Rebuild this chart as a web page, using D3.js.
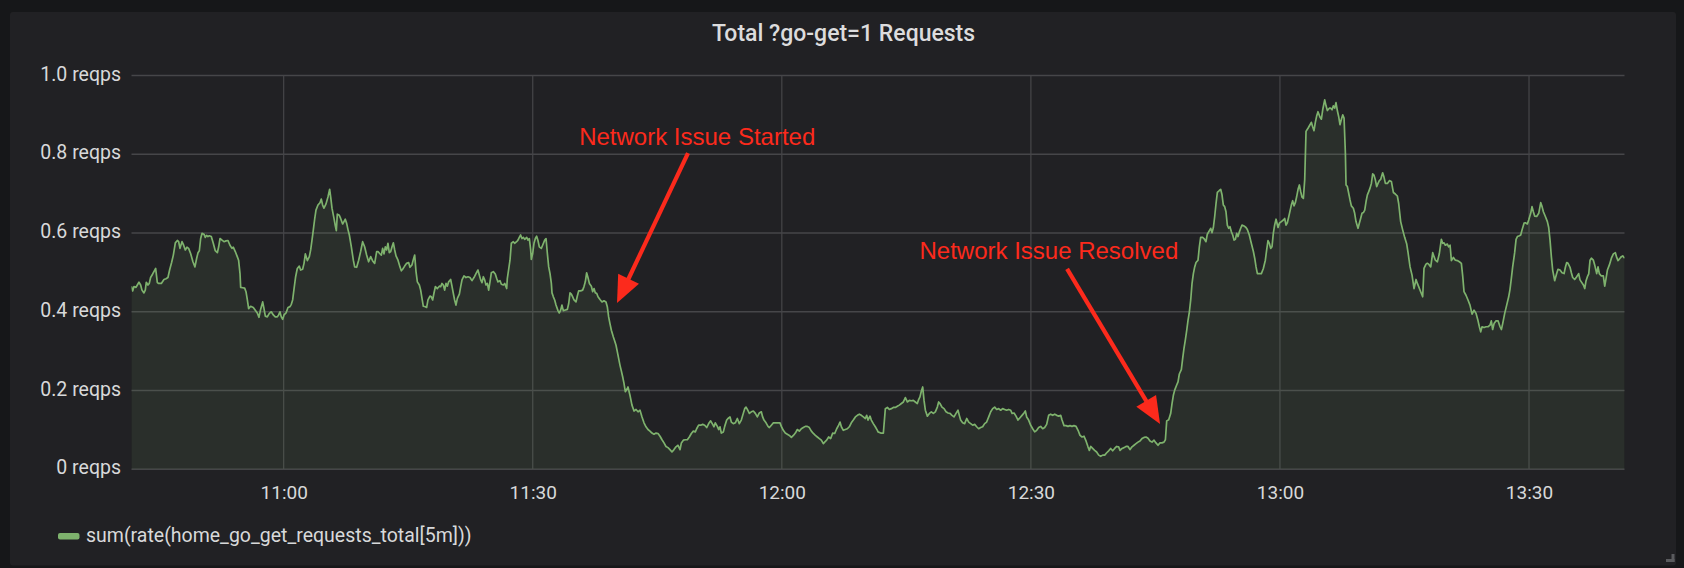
<!DOCTYPE html>
<html><head><meta charset="utf-8">
<script src="https://cdn.jsdelivr.net/npm/d3@7"></script>
<style>
html,body{margin:0;padding:0;background:#161719;overflow:hidden;}
svg{display:block;}
</style></head><body>
<svg id="chart" width="1684" height="568"></svg>
<script>
// ---------------- data ----------------
const chartTitle = "Total ?go-get=1 Requests";
const seriesName = "sum(rate(home_go_get_requests_total[5m]))";
const yTickValues = [0, 0.2, 0.4, 0.6, 0.8, 1.0];
const yTickLabels = ["0 reqps", "0.2 reqps", "0.4 reqps", "0.6 reqps", "0.8 reqps", "1.0 reqps"];
const xTickLabels = ["11:00", "11:30", "12:00", "12:30", "13:00", "13:30"];
const rangeStartMin = -18.33;   // minutes relative to 11:00 (10:41:40)
const rangeEndMin = 161.5;      // 13:41:30

// sample times, minutes relative to 11:00
const minutesFrom1100 = [
-18.35,-18.19,-18.03,-17.79,-17.63,-17.43,-17.23,-17.07,-16.83,-16.67,-16.55,-16.35,-16.19,-16.03,-15.78,-15.58,-15.42,-15.22,-15.06,-14.74,
-14.42,-14.18,-13.94,-13.74,-13.50,-13.29,-13.05,-12.81,-12.65,-12.49,-12.25,-12.05,-11.85,-11.65,-11.45,-11.21,-10.93,-10.69,-10.48,-10.32,
-10.16,-10.00,-9.84,-9.60,-9.44,-9.28,-9.12,-8.96,-8.72,-8.48,-8.24,-7.99,-7.83,-7.67,-7.43,-7.19,-6.95,-6.71,-6.47,-6.23,
-6.07,-5.83,-5.59,-5.43,-5.26,-5.18,-4.94,-4.70,-4.54,-4.38,-4.22,-3.98,-3.66,-3.42,-3.18,-2.98,-2.78,-2.53,-2.37,-2.21,
-1.97,-1.73,-1.49,-1.25,-1.01,-0.77,-0.61,-0.45,-0.29,-0.12,0.04,0.28,0.52,0.76,0.92,1.08,1.24,1.44,1.64,1.88,
2.04,2.28,2.45,2.61,2.85,3.09,3.25,3.41,3.57,3.73,3.89,4.13,4.37,4.53,4.69,4.85,5.10,5.34,5.54,5.66,
5.82,6.06,6.22,6.34,6.46,6.70,6.86,7.10,7.26,7.42,7.58,7.75,7.91,8.15,8.39,8.55,8.79,9.03,9.27,9.51,
9.75,9.99,10.23,10.48,10.72,10.96,11.20,
11.36,11.56,11.76,11.92,12.08,12.24,12.40,12.56,12.72,12.89,13.05,13.21,13.37,13.53,13.77,14.01,14.17,14.33,14.57,14.81,
15.05,15.21,15.45,15.62,15.78,15.94,16.10,16.34,16.50,16.66,16.82,17.06,17.22,17.38,17.62,17.78,17.94,18.10,18.27,18.51,
18.75,18.91,19.07,19.23,19.39,19.55,19.71,19.87,20.11,20.27,20.43,20.59,20.75,20.92,21.16,21.32,21.48,21.72,21.96,22.20,
22.44,22.68,22.92,23.16,23.40,23.57,23.73,23.89,24.05,24.21,24.37,24.53,24.69,24.85,25.01,25.25,25.49,25.65,25.81,26.05,
26.22,26.46,26.62,26.86,26.94,27.10,27.26,27.42,27.66,27.82,28.06,28.22,28.38,28.54,28.70,28.87,29.03,29.27,29.43,29.59,
29.75,29.83,29.99,30.15,30.31,30.47,30.63,30.79,31.03,31.19,31.44,31.60,31.76,31.92,32.08,32.24,32.32,32.48,32.64,32.80,
33.04,33.20,33.36,33.52,33.68,33.84,34.17,34.33,34.49,34.65,34.81,34.97,35.21,35.37,35.53,35.77,36.01,36.17,36.33,36.49,
36.65,36.82,37.06,37.22,37.38,37.54,37.70,37.86,38.10,38.34,38.58,38.82,38.98,39.14,39.30,39.47,39.71,39.87,40.03,40.19,
40.35,40.51,40.67,40.83,40.99,41.15,41.39,
41.47,41.71,41.95,42.20,42.44,42.68,42.92,43.16,43.40,43.64,43.88,44.12,44.36,44.60,44.85,45.09,45.33,45.57,45.81,46.05,
46.29,46.53,46.77,47.01,47.25,47.50,47.74,47.90,48.14,48.38,48.62,48.86,49.10,49.34,49.58,49.74,49.98,50.23,50.47,50.71,
50.95,51.19,51.43,51.67,51.83,51.99,52.23,52.39,52.55,52.71,52.96,53.12,53.36,53.52,53.76,53.92,54.16,54.40,54.64,54.88,
55.12,55.36,55.53,55.69,55.85,56.09,56.33,56.57,56.81,57.05,57.29,57.53,57.69,57.85,58.10,58.34,58.50,58.74,58.98,59.22,
59.54,59.78,59.94,60.18,60.42,60.66,60.91,61.15,61.39,61.63,61.87,62.11,62.35,62.59,62.83,63.07,63.31,63.56,63.80,64.04,
64.28,64.52,64.76,65.00,65.16,65.40,65.64,65.88,66.13,66.37,66.61,66.85,67.01,67.17,67.41,67.65,67.89,68.13,68.37,68.61,
68.86,69.10,69.34,69.58,69.82,70.06,70.22,70.38,70.62,70.78,71.02,71.26,71.51,
71.59,71.91,72.23,72.47,72.71,72.95,73.19,73.43,73.67,73.91,74.15,74.40,74.64,74.88,75.12,75.36,75.60,75.84,76.08,76.32,
76.48,76.64,76.81,76.97,77.13,77.29,77.53,77.77,78.01,78.25,78.49,78.73,78.89,79.05,79.29,79.54,79.78,80.02,80.26,80.50,
80.74,80.98,81.22,81.38,81.54,81.78,82.02,82.27,82.51,82.75,82.99,83.23,83.47,83.71,83.95,84.19,84.43,84.67,84.92,85.16,
85.40,85.64,85.88,86.12,86.36,86.60,86.84,87.08,87.32,87.57,87.73,87.97,88.21,88.45,88.69,88.93,89.17,89.33,89.49,89.73,
89.97,90.22,90.46,90.70,90.94,91.18,91.42,91.66,91.90,92.14,92.38,92.62,92.87,93.11,93.35,93.59,93.75,93.99,94.23,94.47,
94.71,94.95,95.19,95.44,95.68,95.92,96.16,96.40,96.64,96.88,97.04,97.20,97.44,97.68,97.92,98.17,98.41,98.65,98.89,99.13,
99.37,99.61,99.85,100.09,100.33,100.57,100.74,100.98,101.22,101.46,
101.70,101.94,102.18,102.42,102.66,102.90,103.14,103.38,103.63,103.87,104.11,104.35,104.59,104.83,105.07,105.31,105.55,105.79,106.03,106.20,
106.36,106.60,106.84,107.00,107.16,107.32,107.56,107.72,107.88,108.12,108.28,108.44,108.60,108.77,108.93,109.09,109.25,109.41,109.57,109.73,
109.89,110.13,110.29,110.45,110.69,110.85,111.09,111.25,111.50,111.66,111.82,111.98,112.14,112.30,112.46,112.70,112.86,113.02,113.18,113.34,
113.50,113.66,113.82,113.98,114.15,114.31,114.47,114.63,114.79,114.95,115.11,115.27,115.43,115.67,115.91,116.07,116.31,116.55,116.80,116.96,
117.12,117.28,117.52,117.76,118.00,118.24,118.40,118.56,118.72,118.88,119.04,119.20,119.36,119.53,119.77,119.93,120.17,120.41,120.57,120.73,
120.89,121.13,121.37,121.53,121.69,121.85,122.01,122.18,122.34,122.50,122.66,122.82,122.98,123.14,123.38,123.62,123.78,123.94,124.10,124.26,
124.42,124.58,124.83,124.99,125.15,125.39,125.55,125.71,125.95,126.11,126.27,126.43,126.59,126.75,126.91,127.07,127.23,127.40,127.56,127.72,
127.88,127.96,128.12,128.28,128.44,128.60,128.84,129.00,129.16,129.40,129.56,129.72,129.88,130.05,130.21,130.37,130.53,130.69,130.85,131.01,
131.17,131.33,131.49,131.65,
131.81,131.97,132.13,132.37,132.53,132.70,132.94,133.18,133.42,133.66,133.90,134.14,134.30,134.54,134.78,135.02,135.27,135.43,135.67,135.91,
136.15,136.39,136.55,136.71,136.95,137.19,137.35,137.59,137.75,137.92,138.16,138.40,138.56,138.72,138.96,139.20,139.44,139.60,139.76,139.92,
140.16,140.32,140.49,140.65,140.89,141.13,141.37,141.61,141.85,142.01,142.17,142.41,142.65,142.89,143.14,143.38,143.62,143.86,144.02,144.18,
144.34,144.58,144.82,145.06,145.30,145.46,145.62,145.79,146.03,146.27,146.51,146.67,146.83,147.07,147.31,147.55,147.71,147.87,148.03,148.27,
148.44,148.60,148.84,149.00,149.16,149.40,149.56,149.80,149.96,150.20,150.36,150.52,150.68,150.92,151.17,151.41,151.57,151.73,151.97,152.21,
152.37,152.53,152.69,152.85,153.09,153.33,153.49,153.73,153.98,154.22,154.38,154.54,154.70,154.94,155.10,155.26,155.50,155.74,155.98,156.14,
156.30,156.55,156.71,156.87,157.03,157.19,157.35,157.51,157.75,157.91,158.15,158.31,158.47,158.71,158.95,159.12,159.28,159.44,159.68,159.92,
160.16,160.40,160.56,160.72,160.96,161.12,161.28,161.52
];

// request rate (reqps) at each sample
const reqps = [
0.465,0.453,0.464,0.462,0.468,0.475,0.468,0.455,0.448,0.455,0.475,0.468,0.472,0.487,0.496,0.504,0.510,0.474,0.472,0.472,
0.482,0.484,0.487,0.506,0.525,0.544,0.575,0.581,0.578,0.561,0.578,0.569,0.557,0.564,0.561,0.548,0.527,0.514,0.536,0.550,
0.555,0.586,0.599,0.597,0.589,0.594,0.591,0.593,0.591,0.574,0.555,0.550,0.565,0.586,0.582,0.578,0.580,0.581,0.569,0.561,
0.564,0.553,0.540,0.531,0.497,0.462,0.461,0.460,0.451,0.431,0.408,0.414,0.411,0.404,0.397,0.386,0.406,0.425,0.408,0.389,
0.387,0.396,0.400,0.392,0.387,0.387,0.392,0.400,0.387,0.381,0.392,0.397,0.411,0.413,0.419,0.430,0.457,0.489,0.510,0.516,
0.506,0.508,0.523,0.547,0.530,0.540,0.557,0.582,0.608,0.635,0.658,0.671,0.677,0.686,0.671,0.663,0.674,0.692,0.711,0.692,
0.663,0.637,0.618,0.606,0.648,0.645,0.637,0.623,0.629,0.635,0.625,0.608,0.595,0.565,0.531,0.514,0.513,0.531,0.553,0.578,
0.565,0.544,0.527,0.540,0.529,0.523,0.553,
0.553,0.548,0.544,0.561,0.547,0.565,0.557,0.574,0.550,0.553,0.565,0.575,0.557,0.542,0.531,0.514,0.504,0.508,0.516,0.523,
0.525,0.513,0.519,0.533,0.544,0.502,0.476,0.468,0.455,0.434,0.414,0.413,0.411,0.430,0.440,0.438,0.430,0.447,0.464,0.459,
0.465,0.464,0.472,0.468,0.455,0.472,0.465,0.476,0.482,0.465,0.447,0.430,0.417,0.434,0.445,0.464,0.481,0.491,0.487,0.489,
0.487,0.479,0.487,0.497,0.506,0.493,0.481,0.474,0.489,0.481,0.468,0.472,0.455,0.476,0.499,0.502,0.496,0.485,0.476,0.479,
0.470,0.468,0.472,0.459,0.485,0.508,0.531,0.574,0.578,0.574,0.578,0.582,0.589,0.595,0.586,0.589,0.584,0.589,0.582,0.586,
0.557,0.533,0.548,0.574,0.586,0.592,0.581,0.565,0.561,0.569,0.582,0.586,0.548,0.514,0.497,0.472,0.448,0.438,0.430,0.417,
0.403,0.397,0.404,0.417,0.403,0.404,0.406,0.421,0.448,0.445,0.438,0.430,0.425,0.440,0.453,0.453,0.455,0.464,0.476,0.499,
0.487,0.472,0.465,0.451,0.459,0.448,0.447,0.438,0.431,0.425,0.428,0.425,0.413,0.387,0.370,0.353,0.336,0.326,0.315,0.298,
0.281,0.264,0.250,0.235,0.218,0.197,0.205,
0.209,0.188,0.163,0.148,0.152,0.146,0.150,0.133,0.118,0.108,0.101,0.097,0.092,0.089,0.092,0.091,0.084,0.075,0.067,0.058,
0.055,0.050,0.044,0.050,0.057,0.061,0.050,0.067,0.074,0.075,0.075,0.082,0.091,0.097,0.095,0.103,0.112,0.112,0.114,0.112,
0.106,0.116,0.123,0.114,0.108,0.118,0.109,0.101,0.108,0.092,0.095,0.109,0.125,0.129,0.133,0.120,0.116,0.118,0.129,0.116,
0.125,0.142,0.154,0.158,0.152,0.142,0.146,0.148,0.142,0.133,0.143,0.146,0.133,0.125,0.118,0.109,0.106,0.112,0.118,0.118,
0.118,0.118,0.109,0.099,0.092,0.089,0.086,0.081,0.086,0.092,0.101,0.097,0.103,0.106,0.109,0.109,0.106,0.097,0.091,0.086,
0.082,0.078,0.074,0.065,0.069,0.074,0.082,0.078,0.092,0.091,0.103,0.112,0.120,0.108,0.099,0.101,0.103,0.108,0.118,0.125,
0.133,0.137,0.140,0.137,0.133,0.129,0.137,0.125,0.135,0.125,0.116,0.108,0.099,
0.095,0.092,0.092,0.154,0.157,0.152,0.154,0.157,0.157,0.160,0.163,0.167,0.171,0.182,0.171,0.175,0.174,0.175,0.171,0.167,
0.177,0.184,0.199,0.209,0.175,0.150,0.135,0.142,0.146,0.142,0.146,0.158,0.171,0.167,0.158,0.154,0.146,0.143,0.142,0.137,
0.133,0.142,0.150,0.137,0.125,0.118,0.116,0.129,0.120,0.116,0.112,0.114,0.108,0.103,0.106,0.108,0.116,0.120,0.133,0.146,
0.154,0.158,0.152,0.154,0.150,0.154,0.152,0.150,0.152,0.150,0.142,0.143,0.135,0.125,0.131,0.137,0.143,0.148,0.133,0.125,
0.112,0.103,0.095,0.099,0.106,0.109,0.103,0.106,0.114,0.137,0.140,0.137,0.140,0.137,0.135,0.137,0.125,0.111,0.111,0.109,
0.111,0.109,0.111,0.109,0.099,0.086,0.082,0.084,0.072,0.057,0.048,0.058,0.053,0.048,0.044,0.036,0.033,0.036,0.036,0.042,
0.047,0.053,0.047,0.053,0.058,0.057,0.048,0.053,0.055,0.058,
0.058,0.050,0.057,0.061,0.065,0.069,0.072,0.078,0.081,0.082,0.079,0.072,0.069,0.074,0.067,0.061,0.067,0.067,0.069,0.075,
0.123,0.126,0.142,0.167,0.188,0.201,0.214,0.222,0.242,0.253,0.281,0.307,0.328,0.353,0.379,0.400,0.430,0.472,0.497,0.514,
0.525,0.531,0.565,0.589,0.589,0.586,0.578,0.597,0.606,0.612,0.601,0.614,0.642,0.675,0.703,0.708,0.711,0.697,0.671,0.667,
0.654,0.620,0.612,0.616,0.603,0.595,0.582,0.584,0.599,0.591,0.603,0.612,0.620,0.618,0.614,0.609,0.595,0.574,0.553,0.536,
0.514,0.497,0.497,0.497,0.510,0.531,0.557,0.581,0.574,0.561,0.565,0.599,0.620,0.635,0.614,0.625,0.629,0.633,0.637,0.620,
0.626,0.648,0.671,0.682,0.669,0.677,0.692,0.711,0.722,0.705,0.691,0.688,0.735,0.858,0.866,0.875,0.881,0.870,0.860,0.881,
0.897,0.908,0.894,0.889,0.913,0.938,0.923,0.911,0.917,0.917,0.913,0.923,0.917,0.931,0.911,0.896,0.875,0.889,0.900,0.892,
0.803,0.722,0.718,0.701,0.684,0.669,0.663,0.650,0.629,0.612,0.625,0.637,0.650,0.652,0.658,0.680,0.697,0.705,0.714,0.726,
0.750,0.747,0.735,0.718,
0.726,0.733,0.736,0.753,0.742,0.726,0.726,0.733,0.731,0.703,0.699,0.694,0.675,0.629,0.608,0.589,0.572,0.550,0.514,0.493,
0.459,0.482,0.472,0.464,0.451,0.438,0.510,0.521,0.523,0.521,0.514,0.550,0.540,0.531,0.527,0.548,0.584,0.574,0.575,0.569,
0.572,0.565,0.569,0.530,0.538,0.531,0.530,0.527,0.523,0.491,0.451,0.442,0.430,0.417,0.394,0.404,0.396,0.377,0.362,0.349,
0.362,0.360,0.362,0.362,0.366,0.377,0.355,0.370,0.377,0.377,0.362,0.355,0.370,0.396,0.417,0.438,0.457,0.485,0.514,0.550,
0.584,0.591,0.593,0.595,0.608,0.625,0.626,0.623,0.633,0.650,0.667,0.654,0.643,0.642,0.650,0.677,0.667,0.654,0.642,0.629,
0.614,0.582,0.540,0.506,0.479,0.497,0.508,0.506,0.499,0.497,0.513,0.525,0.523,0.513,0.499,0.487,0.482,0.489,0.497,0.481,
0.476,0.468,0.459,0.479,0.489,0.496,0.531,0.536,0.531,0.519,0.497,0.514,0.497,0.491,0.491,0.465,0.485,0.506,0.519,0.536,
0.547,0.550,0.538,0.530,0.536,0.540,0.542,0.536
];

// annotations (positions in data units: minutes from 11:00, reqps)
const annotationText = ["Network Issue Started", "Network Issue Resolved"];
const annotationLabelMin = [35.59, 76.58];
const annotationLabelVal = [0.824, 0.534];
const annotationTailMin = [48.70, 94.36];
const annotationTailVal = [0.803, 0.509];
const annotationTipMin = [40.15, 105.56];
const annotationTipVal = [0.422, 0.115];

// ---------------- drawing ----------------
const W = 1684, H = 568;
const plot = {left: 131.5, right: 1624.5, top: 75.5, bottom: 469.3};
const base = new Date(2019, 0, 1, 11, 0, 0).getTime();
const toDate = m => new Date(base + m * 60000);

const data = minutesFrom1100.map((m, i) => ({t: toDate(m), v: reqps[i]}));

const svg = d3.select("#chart");
const x = d3.scaleTime().domain([toDate(rangeStartMin), toDate(rangeEndMin)]).range([plot.left, plot.right]);
const y = d3.scaleLinear().domain([0, 1]).range([plot.bottom, plot.top]);

const textColor = "#d8d9da";
const gridColor = "#464649";
const lineColor = "#7eb26d";
const annoColor = "#fc2a1c";

// background + panel
svg.append("rect").attr("width", W).attr("height", H).attr("fill", "#161719");
svg.append("rect").attr("x", 10).attr("y", 12).attr("width", 1666).attr("height", 553.5)
  .attr("rx", 3).attr("fill", "#212124");

// title
svg.append("text").attr("x", 843.5).attr("y", 41)
  .attr("text-anchor", "middle").attr("fill", "#dcdcdd")
  .style("font-family", "Roboto, 'Noto Sans', sans-serif").style("font-size", "23px").style("font-weight", 500)
  .text(chartTitle);

// grid
const xTicks = xTickLabels.map(s => { const [h, mm] = s.split(":").map(Number); return toDate((h - 11) * 60 + mm); });
const grid = svg.append("g");
grid.selectAll("line.h").data(yTickValues).join("line")
  .attr("x1", plot.left).attr("x2", plot.right)
  .attr("y1", d => y(d)).attr("y2", d => y(d))
  .attr("stroke", gridColor).attr("stroke-width", 1.4);
grid.selectAll("line.v").data(xTicks).join("line")
  .attr("x1", d => x(d)).attr("x2", d => x(d))
  .attr("y1", plot.top).attr("y2", plot.bottom)
  .attr("stroke", gridColor).attr("stroke-width", 1.2);

// series
svg.append("clipPath").attr("id", "clip").append("rect")
  .attr("x", plot.left).attr("y", plot.top - 5).attr("width", plot.right - plot.left).attr("height", plot.bottom - plot.top + 5);
const g = svg.append("g").attr("clip-path", "url(#clip)");
g.append("path").datum(data)
  .attr("d", d3.area().x(d => x(d.t)).y0(y(0)).y1(d => y(d.v)))
  .attr("fill", lineColor).attr("fill-opacity", 0.1);
g.append("path").datum(data)
  .attr("d", d3.line().x(d => x(d.t)).y(d => y(d.v)))
  .attr("fill", "none").attr("stroke", lineColor).attr("stroke-width", 1.7).attr("stroke-linejoin", "round");

// axes
const axisFont = "Roboto, 'Noto Sans', sans-serif";
const yAxis = svg.append("g").attr("transform", `translate(${plot.left},0)`)
  .call(d3.axisLeft(y).tickValues(yTickValues).tickFormat((d, i) => yTickLabels[i]).tickSize(0).tickPadding(10.5));
yAxis.select(".domain").remove();
yAxis.selectAll("text").attr("fill", textColor).attr("dy", "0.24em")
  .style("font-family", axisFont).style("font-size", "19.5px");

const xAxis = svg.append("g").attr("transform", `translate(0,${plot.bottom})`)
  .call(d3.axisBottom(x).tickValues(xTicks).tickFormat((d, i) => xTickLabels[i]).tickSize(0).tickPadding(16));
xAxis.select(".domain").remove();
xAxis.selectAll("text").attr("fill", textColor)
  .style("font-family", axisFont).style("font-size", "19px");

// legend
svg.append("rect").attr("x", 58).attr("y", 533).attr("width", 21.5).attr("height", 6.5).attr("rx", 2)
  .attr("fill", lineColor);
svg.append("text").attr("x", 86).attr("y", 542).attr("fill", textColor)
  .style("font-family", axisFont).style("font-size", "19.5px").text(seriesName);

// resize handle
svg.append("rect").attr("x", 1671.5).attr("y", 554).attr("width", 3).attr("height", 8).attr("fill", "#5a5b5e");
svg.append("rect").attr("x", 1666).attr("y", 559).attr("width", 8.5).attr("height", 3).attr("fill", "#5a5b5e");

// annotations
const anno = svg.append("g");
annotationText.forEach((txt, i) => {
  anno.append("text")
    .attr("x", x(toDate(annotationLabelMin[i]))).attr("y", y(annotationLabelVal[i]))
    .attr("fill", annoColor)
    .style("font-family", "'Liberation Sans', Arial, Helvetica, sans-serif").style("font-size", "24px")
    .text(txt);
  const tx = x(toDate(annotationTailMin[i])), ty = y(annotationTailVal[i]);
  const px = x(toDate(annotationTipMin[i])), py = y(annotationTipVal[i]);
  const dx = px - tx, dy = py - ty, len = Math.hypot(dx, dy);
  const ux = dx / len, uy = dy / len;
  const headLen = 27, headHalf = 11.5;
  const bx = px - ux * headLen, by = py - uy * headLen;
  anno.append("line").attr("x1", tx).attr("y1", ty).attr("x2", bx + ux * 2).attr("y2", by + uy * 2)
    .attr("stroke", annoColor).attr("stroke-width", 4.2);
  anno.append("polygon")
    .attr("points", [[px, py], [bx - uy * headHalf, by + ux * headHalf], [bx + uy * headHalf, by - ux * headHalf]].map(p => p.join(",")).join(" "))
    .attr("fill", annoColor);
});
if (minutesFrom1100.length !== reqps.length) console.warn("length mismatch", minutesFrom1100.length, reqps.length);
</script>
</body></html>
